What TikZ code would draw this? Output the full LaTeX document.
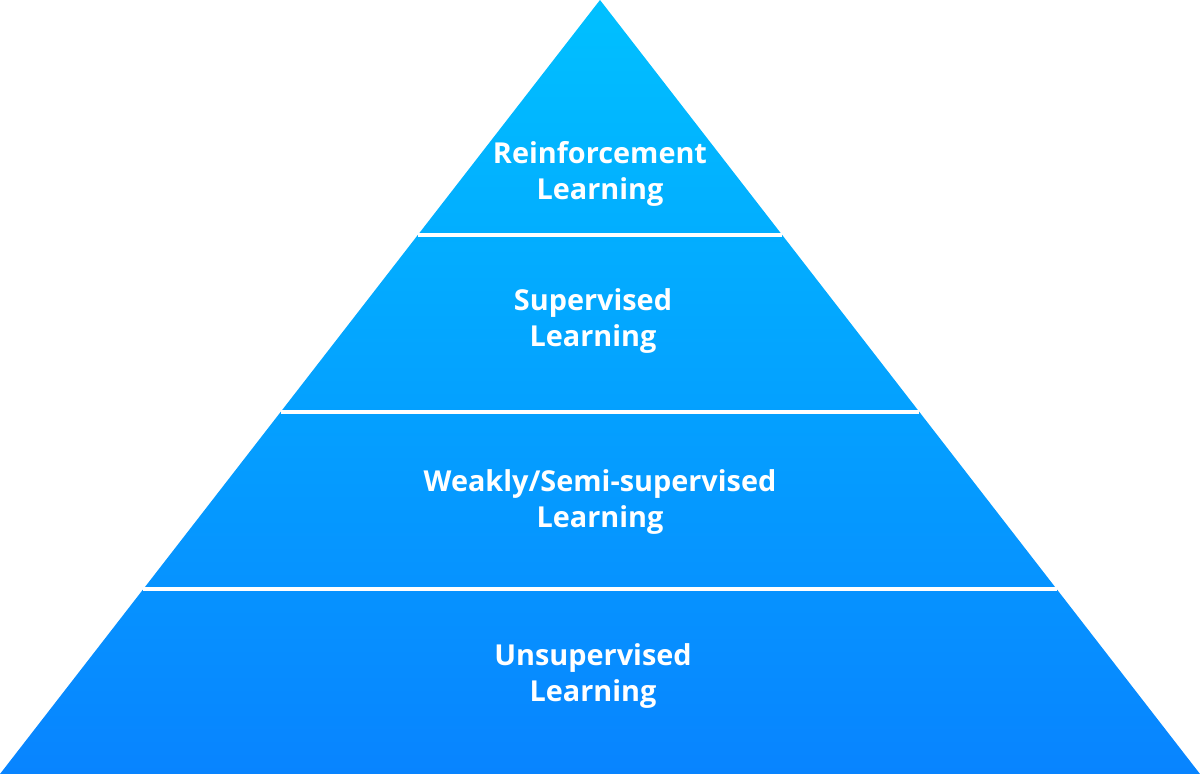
\documentclass[tikz,border=0pt]{standalone}
\usepackage{fontspec}
\setmainfont{Open Sans}
\begin{document}
\begin{tikzpicture}[x=0.01cm,y=-0.01cm,
  lbl/.style={text=white,font=\fontsize{8.2pt}{10pt}\selectfont\bfseries,align=center},
  sep/.style={draw=white,line width=0.9pt}]
\useasboundingbox (0,0) rectangle (1200,774);
\coordinate (apex) at (600,0);
\coordinate (bl) at (0,774);
\coordinate (br) at (1200,774);
\shade[top color={rgb,255:red,0;green,192;blue,255},bottom color={rgb,255:red,8;green,132;blue,255}] (apex) -- (br) -- (bl) -- cycle;
\foreach \y in {235,412,589}{
  \pgfmathsetmacro{\dx}{0.7752*\y}
  \draw[sep] ({600-\dx},\y) -- ({600+\dx},\y);
}
\node[lbl] (r) at (600,174) {Reinforcement\\Learning};
\node[lbl] (s) at (593,321) {Supervised\\Learning};
\node[lbl] (w) at (600,502) {Weakly/Semi-supervised\\Learning};
\node[lbl] (u) at (593,676) {Unsupervised\\Learning};
\end{tikzpicture}
\end{document}
